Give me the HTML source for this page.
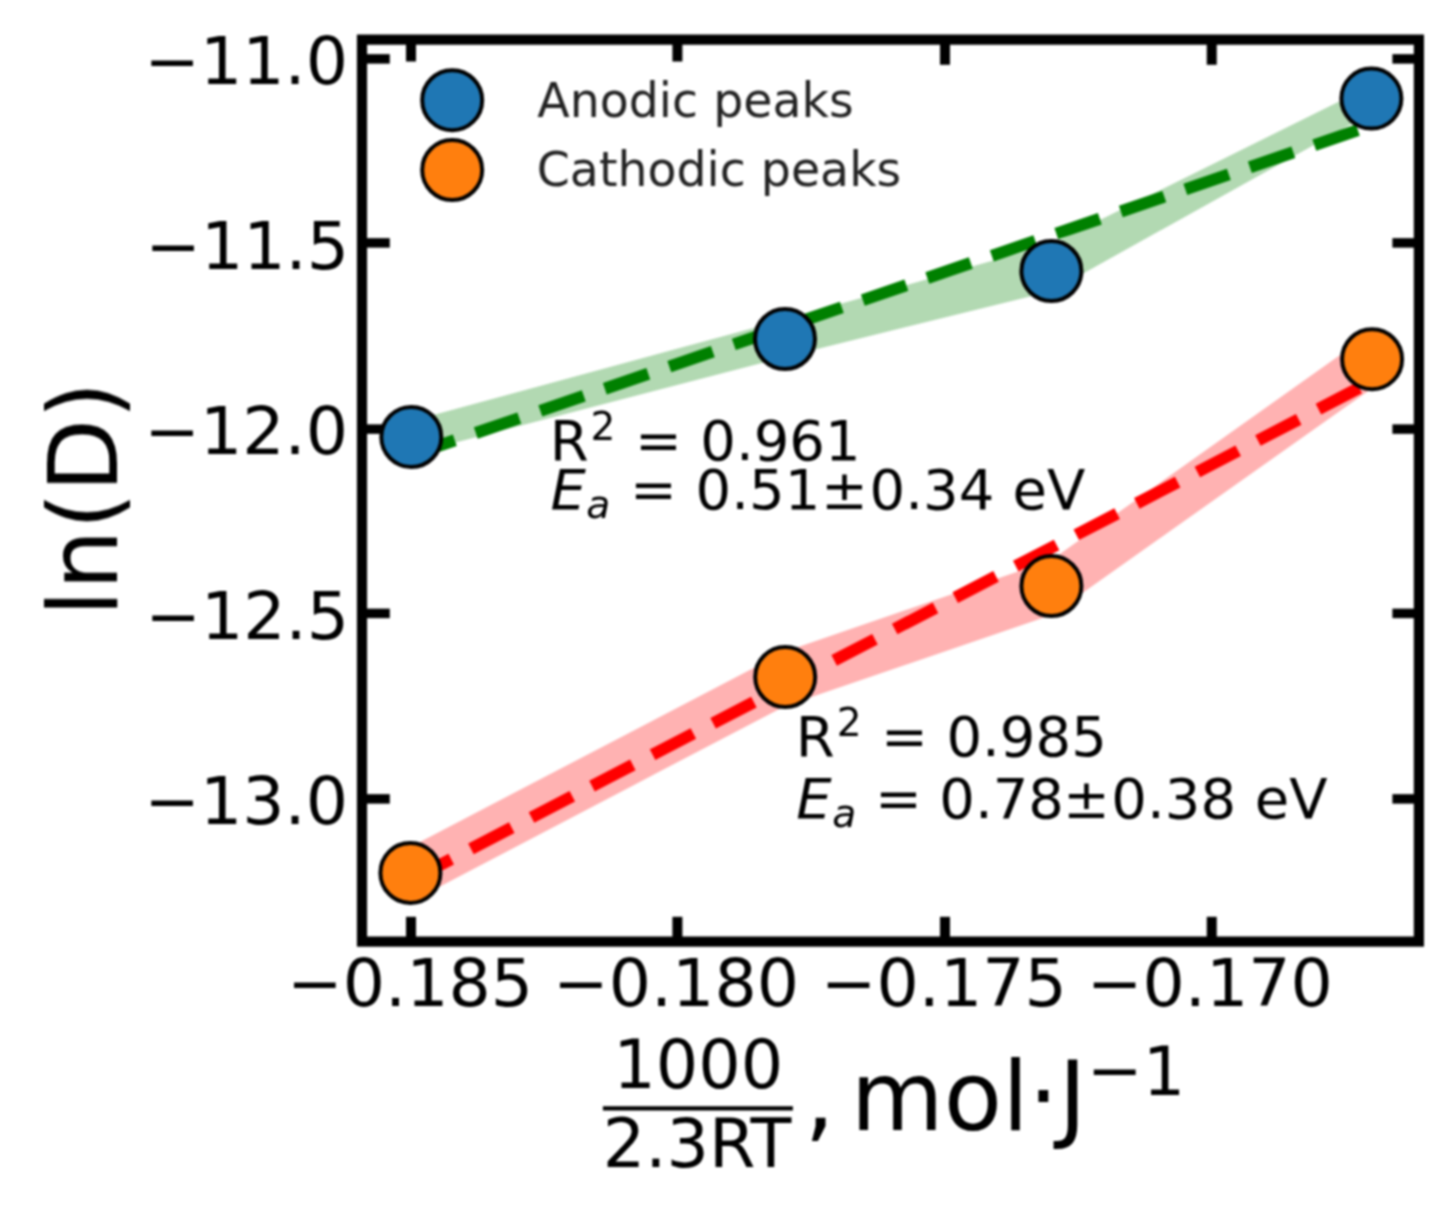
<!DOCTYPE html>
<html><head><meta charset="utf-8"><title>ln(D) vs 1000/2.3RT</title>
<style>html,body{margin:0;padding:0;background:#fff;overflow:hidden;}svg{display:block;}</style>
</head><body>
<svg width="1454" height="1210" viewBox="0 0 1454 1210">
<defs><filter id="soft" x="-2%" y="-2%" width="104%" height="104%" color-interpolation-filters="sRGB"><feGaussianBlur stdDeviation="0.8"/></filter></defs>
<rect x="0" y="0" width="1454" height="1210" fill="#ffffff"/>
<g filter="url(#soft)">
<polygon points="411.3,421.0 785.0,319.5 1051.4,244.0 1371.4,85.6 1371.4,113.0 1051.4,291.2 785.0,357.0 411.3,454.0" fill="#008000" fill-opacity="0.3"/>
<polygon points="410.4,846.9 785.2,651.5 1051.4,560.0 1372.1,332.2 1372.1,388.2 1051.4,615.0 785.2,706.0 410.4,901.9" fill="#ff0000" fill-opacity="0.3"/>
<line x1="411.3" y1="455.17" x2="1371.4" y2="125.47" stroke="#008000" stroke-width="12" stroke-dasharray="46 22.2"/>
<line x1="410.4" y1="880.29" x2="1372.1" y2="381.29" stroke="#ff0000" stroke-width="12" stroke-dasharray="46 22.2"/>
<line x1="362.0" y1="58.90" x2="389.8" y2="58.90" stroke="#000" stroke-width="9.5"/>
<line x1="1418.9" y1="58.90" x2="1392.4" y2="58.90" stroke="#000" stroke-width="9.5"/>
<line x1="362.0" y1="242.90" x2="389.8" y2="242.90" stroke="#000" stroke-width="9.5"/>
<line x1="1418.9" y1="242.90" x2="1392.4" y2="242.90" stroke="#000" stroke-width="9.5"/>
<line x1="362.0" y1="429.10" x2="389.8" y2="429.10" stroke="#000" stroke-width="9.5"/>
<line x1="1418.9" y1="429.10" x2="1392.4" y2="429.10" stroke="#000" stroke-width="9.5"/>
<line x1="362.0" y1="613.40" x2="389.8" y2="613.40" stroke="#000" stroke-width="9.5"/>
<line x1="1418.9" y1="613.40" x2="1392.4" y2="613.40" stroke="#000" stroke-width="9.5"/>
<line x1="362.0" y1="798.90" x2="389.8" y2="798.90" stroke="#000" stroke-width="9.5"/>
<line x1="1418.9" y1="798.90" x2="1392.4" y2="798.90" stroke="#000" stroke-width="9.5"/>
<line x1="411.00" y1="941.6" x2="411.00" y2="916.8" stroke="#000" stroke-width="10.0"/>
<line x1="411.00" y1="39.65" x2="411.00" y2="64.8" stroke="#000" stroke-width="10.0"/>
<line x1="677.40" y1="941.6" x2="677.40" y2="916.8" stroke="#000" stroke-width="10.0"/>
<line x1="677.40" y1="39.65" x2="677.40" y2="64.8" stroke="#000" stroke-width="10.0"/>
<line x1="945.00" y1="941.6" x2="945.00" y2="916.8" stroke="#000" stroke-width="10.0"/>
<line x1="945.00" y1="39.65" x2="945.00" y2="64.8" stroke="#000" stroke-width="10.0"/>
<line x1="1211.75" y1="941.6" x2="1211.75" y2="916.8" stroke="#000" stroke-width="10.0"/>
<line x1="1211.75" y1="39.65" x2="1211.75" y2="64.8" stroke="#000" stroke-width="10.0"/>
<rect x="362.0" y="39.65" width="1056.9" height="901.95" fill="none" stroke="#000" stroke-width="10.2" stroke-linejoin="miter"/>
<circle cx="411.3" cy="437.0" r="30.0" fill="#1f77b4" stroke="#000" stroke-width="4.0"/>
<circle cx="785.0" cy="339.0" r="30.0" fill="#1f77b4" stroke="#000" stroke-width="4.0"/>
<circle cx="1051.4" cy="271.0" r="30.0" fill="#1f77b4" stroke="#000" stroke-width="4.0"/>
<circle cx="1371.4" cy="98.6" r="30.0" fill="#1f77b4" stroke="#000" stroke-width="4.0"/>
<circle cx="410.4" cy="872.9" r="30.0" fill="#ff7f0e" stroke="#000" stroke-width="4.0"/>
<circle cx="785.2" cy="677.0" r="30.0" fill="#ff7f0e" stroke="#000" stroke-width="4.0"/>
<circle cx="1051.4" cy="586.0" r="30.0" fill="#ff7f0e" stroke="#000" stroke-width="4.0"/>
<circle cx="1372.1" cy="359.2" r="30.0" fill="#ff7f0e" stroke="#000" stroke-width="4.0"/>
<rect x="392" y="61.5" width="533" height="150" fill="#ffffff"/>
<circle cx="452.2" cy="100.2" r="30.0" fill="#1f77b4" stroke="#000" stroke-width="4.0"/>
<circle cx="452.2" cy="170.0" r="30.0" fill="#ff7f0e" stroke="#000" stroke-width="4.0"/>
<text x="144.20" y="83.90" font-family="DejaVu Sans, Liberation Sans, sans-serif" font-size="66.50" fill="#000">−11.0</text>
<text x="145.20" y="268.90" font-family="DejaVu Sans, Liberation Sans, sans-serif" font-size="66.50" fill="#000">−11.5</text>
<text x="144.20" y="453.90" font-family="DejaVu Sans, Liberation Sans, sans-serif" font-size="66.50" fill="#000">−12.0</text>
<text x="145.20" y="638.90" font-family="DejaVu Sans, Liberation Sans, sans-serif" font-size="66.50" fill="#000">−12.5</text>
<text x="144.20" y="823.90" font-family="DejaVu Sans, Liberation Sans, sans-serif" font-size="66.50" fill="#000">−13.0</text>
<text x="287.00" y="1006.30" font-family="DejaVu Sans, Liberation Sans, sans-serif" font-size="66.50" fill="#000">−0.185</text>
<text x="552.92" y="1006.30" font-family="DejaVu Sans, Liberation Sans, sans-serif" font-size="66.50" fill="#000">−0.180</text>
<text x="820.84" y="1006.30" font-family="DejaVu Sans, Liberation Sans, sans-serif" font-size="66.50" fill="#000">−0.175</text>
<text x="1086.76" y="1006.30" font-family="DejaVu Sans, Liberation Sans, sans-serif" font-size="66.50" fill="#000">−0.170</text>
<text x="613.20" y="1088.10" font-family="DejaVu Sans, Liberation Sans, sans-serif" font-size="66.80" fill="#000">1000</text>
<text x="602.70" y="1166.80" font-family="DejaVu Sans, Liberation Sans, sans-serif" font-size="66.80" fill="#000">2.3RT</text>
<text x="804.50" y="1129.90" font-family="DejaVu Sans, Liberation Sans, sans-serif" font-size="95.40" fill="#000">,</text>
<text x="850.85" y="1129.90" font-family="DejaVu Sans, Liberation Sans, sans-serif" font-size="95.40" fill="#000">mol</text>
<text x="1028.20" y="1129.90" font-family="DejaVu Sans, Liberation Sans, sans-serif" font-size="95.40" fill="#000">·</text>
<text x="1058.50" y="1129.90" font-family="DejaVu Sans, Liberation Sans, sans-serif" font-size="95.40" fill="#000">J</text>
<text x="1086.70" y="1092.50" font-family="DejaVu Sans, Liberation Sans, sans-serif" font-size="66.80" fill="#000">−</text>
<text x="1142.75" y="1094.50" font-family="DejaVu Sans, Liberation Sans, sans-serif" font-size="66.80" fill="#000">1</text>
<text x="537.35" y="117.30" font-family="DejaVu Sans, Liberation Sans, sans-serif" font-size="47.40" fill="#222">Anodic peaks</text>
<text x="536.75" y="185.50" font-family="DejaVu Sans, Liberation Sans, sans-serif" font-size="47.40" fill="#222">Cathodic peaks</text>
<text x="549.65" y="460.40" font-family="DejaVu Sans, Liberation Sans, sans-serif" font-size="56.00" fill="#000">R</text>
<text x="590.50" y="440.30" font-family="DejaVu Sans, Liberation Sans, sans-serif" font-size="39.20" fill="#000">2</text>
<text x="635.05" y="460.40" font-family="DejaVu Sans, Liberation Sans, sans-serif" font-size="56.00" fill="#000">=</text>
<text x="700.25" y="460.40" font-family="DejaVu Sans, Liberation Sans, sans-serif" font-size="56.00" fill="#000">0.961</text>
<text x="550.60" y="509.10" font-family="DejaVu Sans, Liberation Sans, sans-serif" font-size="56.00" font-style="italic" fill="#000">E</text>
<text x="586.35" y="517.70" font-family="DejaVu Sans, Liberation Sans, sans-serif" font-size="39.20" font-style="italic" fill="#000">a</text>
<text x="630.10" y="509.10" font-family="DejaVu Sans, Liberation Sans, sans-serif" font-size="56.00" fill="#000">=</text>
<text x="695.60" y="509.10" font-family="DejaVu Sans, Liberation Sans, sans-serif" font-size="56.00" fill="#000">0.51</text>
<text x="821.10" y="509.10" font-family="DejaVu Sans, Liberation Sans, sans-serif" font-size="56.00" fill="#000">±</text>
<text x="869.60" y="509.10" font-family="DejaVu Sans, Liberation Sans, sans-serif" font-size="56.00" fill="#000">0.34</text>
<text x="1012.55" y="509.10" font-family="DejaVu Sans, Liberation Sans, sans-serif" font-size="56.00" fill="#000">eV</text>
<text x="795.70" y="755.80" font-family="DejaVu Sans, Liberation Sans, sans-serif" font-size="56.00" fill="#000">R</text>
<text x="836.75" y="736.20" font-family="DejaVu Sans, Liberation Sans, sans-serif" font-size="39.20" fill="#000">2</text>
<text x="880.95" y="755.80" font-family="DejaVu Sans, Liberation Sans, sans-serif" font-size="56.00" fill="#000">=</text>
<text x="946.45" y="755.80" font-family="DejaVu Sans, Liberation Sans, sans-serif" font-size="56.00" fill="#000">0.985</text>
<text x="796.20" y="818.20" font-family="DejaVu Sans, Liberation Sans, sans-serif" font-size="56.00" font-style="italic" fill="#000">E</text>
<text x="832.30" y="826.90" font-family="DejaVu Sans, Liberation Sans, sans-serif" font-size="39.20" font-style="italic" fill="#000">a</text>
<text x="875.05" y="818.20" font-family="DejaVu Sans, Liberation Sans, sans-serif" font-size="56.00" fill="#000">=</text>
<text x="939.30" y="818.20" font-family="DejaVu Sans, Liberation Sans, sans-serif" font-size="56.00" fill="#000">0.78</text>
<text x="1063.00" y="818.20" font-family="DejaVu Sans, Liberation Sans, sans-serif" font-size="56.00" fill="#000">±</text>
<text x="1111.35" y="818.20" font-family="DejaVu Sans, Liberation Sans, sans-serif" font-size="56.00" fill="#000">0.38</text>
<text x="1254.80" y="818.20" font-family="DejaVu Sans, Liberation Sans, sans-serif" font-size="56.00" fill="#000">eV</text>
<line x1="602.9" y1="1108.3" x2="792.9" y2="1108.3" stroke="#000" stroke-width="4.2"/>
<text transform="translate(117.0,616.5) rotate(-90)" x="0" y="0" font-family="DejaVu Sans, Liberation Sans, sans-serif" font-size="95.4" fill="#000">ln(D)</text>
</g>
</svg>
</body></html>
